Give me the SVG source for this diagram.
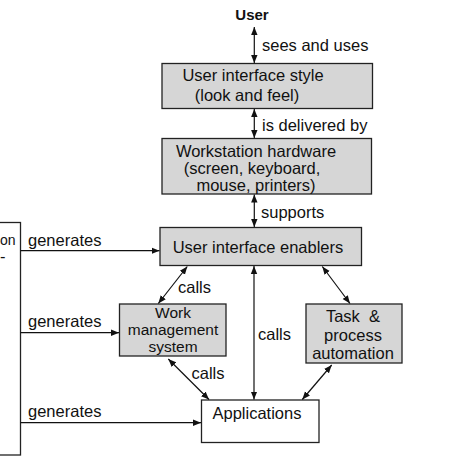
<svg xmlns="http://www.w3.org/2000/svg" width="474" height="474" viewBox="0 0 474 474">
<style>
text{font-family:"Liberation Sans",Arial,sans-serif;font-size:16.5px;fill:#111}
.box{fill:#d6d6d6;stroke:#222;stroke-width:1.3}
.wbox{fill:#fff;stroke:#222;stroke-width:1.3}
.ln{stroke:#111;stroke-width:1.2;fill:none}
.c{text-anchor:middle}
.sm{font-size:15.5px}
</style>
<defs>
<marker id="ah" viewBox="0 0 10 10" refX="10" refY="5" markerWidth="8" markerHeight="8" markerUnits="userSpaceOnUse" orient="auto-start-reverse">
<path d="M0,1 L10,5 L0,9 Z" fill="#111"/>
</marker>
</defs>
<rect width="474" height="474" fill="#fff"/>
<g id="user"><text x="252" y="20" class="c" style="font-weight:bold;font-size:15px">User</text></g>
<g id="ui-style"><rect class="box" x="162" y="63.5" width="210.5" height="45"/>
<text x="253" y="81" class="c">User interface style</text>
<text x="247" y="101" class="c">(look and feel)</text></g>
<g id="workstation"><rect class="box" x="162" y="138.5" width="209.5" height="55.5"/>
<text x="256" y="157" class="c">Workstation hardware</text>
<text x="252" y="174" class="c">(screen, keyboard,</text>
<text x="256" y="191" class="c">mouse, printers)</text></g>
<g id="ui-enablers"><rect class="box" x="160" y="227.5" width="201.5" height="38"/>
<text x="258" y="253" class="c">User interface enablers</text></g>
<g id="work-mgmt"><rect class="box" x="119.5" y="304" width="106.5" height="52"/>
<text x="173" y="318" class="c sm">Work</text>
<text x="173" y="335" class="c sm">management</text>
<text x="173" y="352" class="c sm">system</text></g>
<g id="task"><rect class="box" x="306" y="304" width="96" height="59"/>
<text x="353" y="321.5" class="c" xml:space="preserve">Task  &amp;</text>
<text x="353" y="340.5" class="c">process</text>
<text x="353" y="358.5" class="c">automation</text></g>
<g id="applications"><rect class="wbox" x="201.5" y="400" width="117.5" height="42.5"/>
<text x="257" y="418.5" class="c">Applications</text></g>
<g id="generator"><rect class="wbox" x="-10" y="222.5" width="30.5" height="232.5"/>
<text x="0" y="245" style="font-size:14px">on</text>
<text x="0" y="262">-</text></g>
<g id="connectors">
<line class="ln" x1="254.3" y1="27" x2="254.3" y2="63" marker-start="url(#ah)" marker-end="url(#ah)"/>
<line class="ln" x1="254.3" y1="109" x2="254.3" y2="138" marker-start="url(#ah)" marker-end="url(#ah)"/>
<line class="ln" x1="254.3" y1="194.5" x2="254.3" y2="227" marker-start="url(#ah)" marker-end="url(#ah)"/>
<line class="ln" x1="254" y1="266" x2="254" y2="399.5" marker-start="url(#ah)" marker-end="url(#ah)"/>
<line class="ln" x1="187.3" y1="266.5" x2="158.3" y2="303.5" marker-start="url(#ah)" marker-end="url(#ah)"/>
<line class="ln" x1="168.3" y1="359" x2="209" y2="399.5" marker-start="url(#ah)" marker-end="url(#ah)"/>
<line class="ln" x1="322.3" y1="266.5" x2="350" y2="303.5" marker-start="url(#ah)" marker-end="url(#ah)"/>
<line class="ln" x1="331.7" y1="365" x2="302.3" y2="399.5" marker-start="url(#ah)" marker-end="url(#ah)"/>
<line class="ln" x1="20.5" y1="250.7" x2="159.5" y2="250.7" marker-end="url(#ah)"/>
<line class="ln" x1="20.5" y1="332.7" x2="119" y2="332.7" marker-end="url(#ah)"/>
<line class="ln" x1="20.5" y1="422.7" x2="201" y2="422.7" marker-end="url(#ah)"/>
<text x="262" y="51">sees and uses</text>
<text x="262" y="130.5">is delivered by</text>
<text x="261" y="218">supports</text>
<text x="28" y="245.5">generates</text>
<text x="28" y="326.5">generates</text>
<text x="28" y="416.5">generates</text>
<text x="178" y="293">calls</text>
<text x="191.5" y="378.5">calls</text>
<text x="258" y="339.5">calls</text>
</g>
</svg>
